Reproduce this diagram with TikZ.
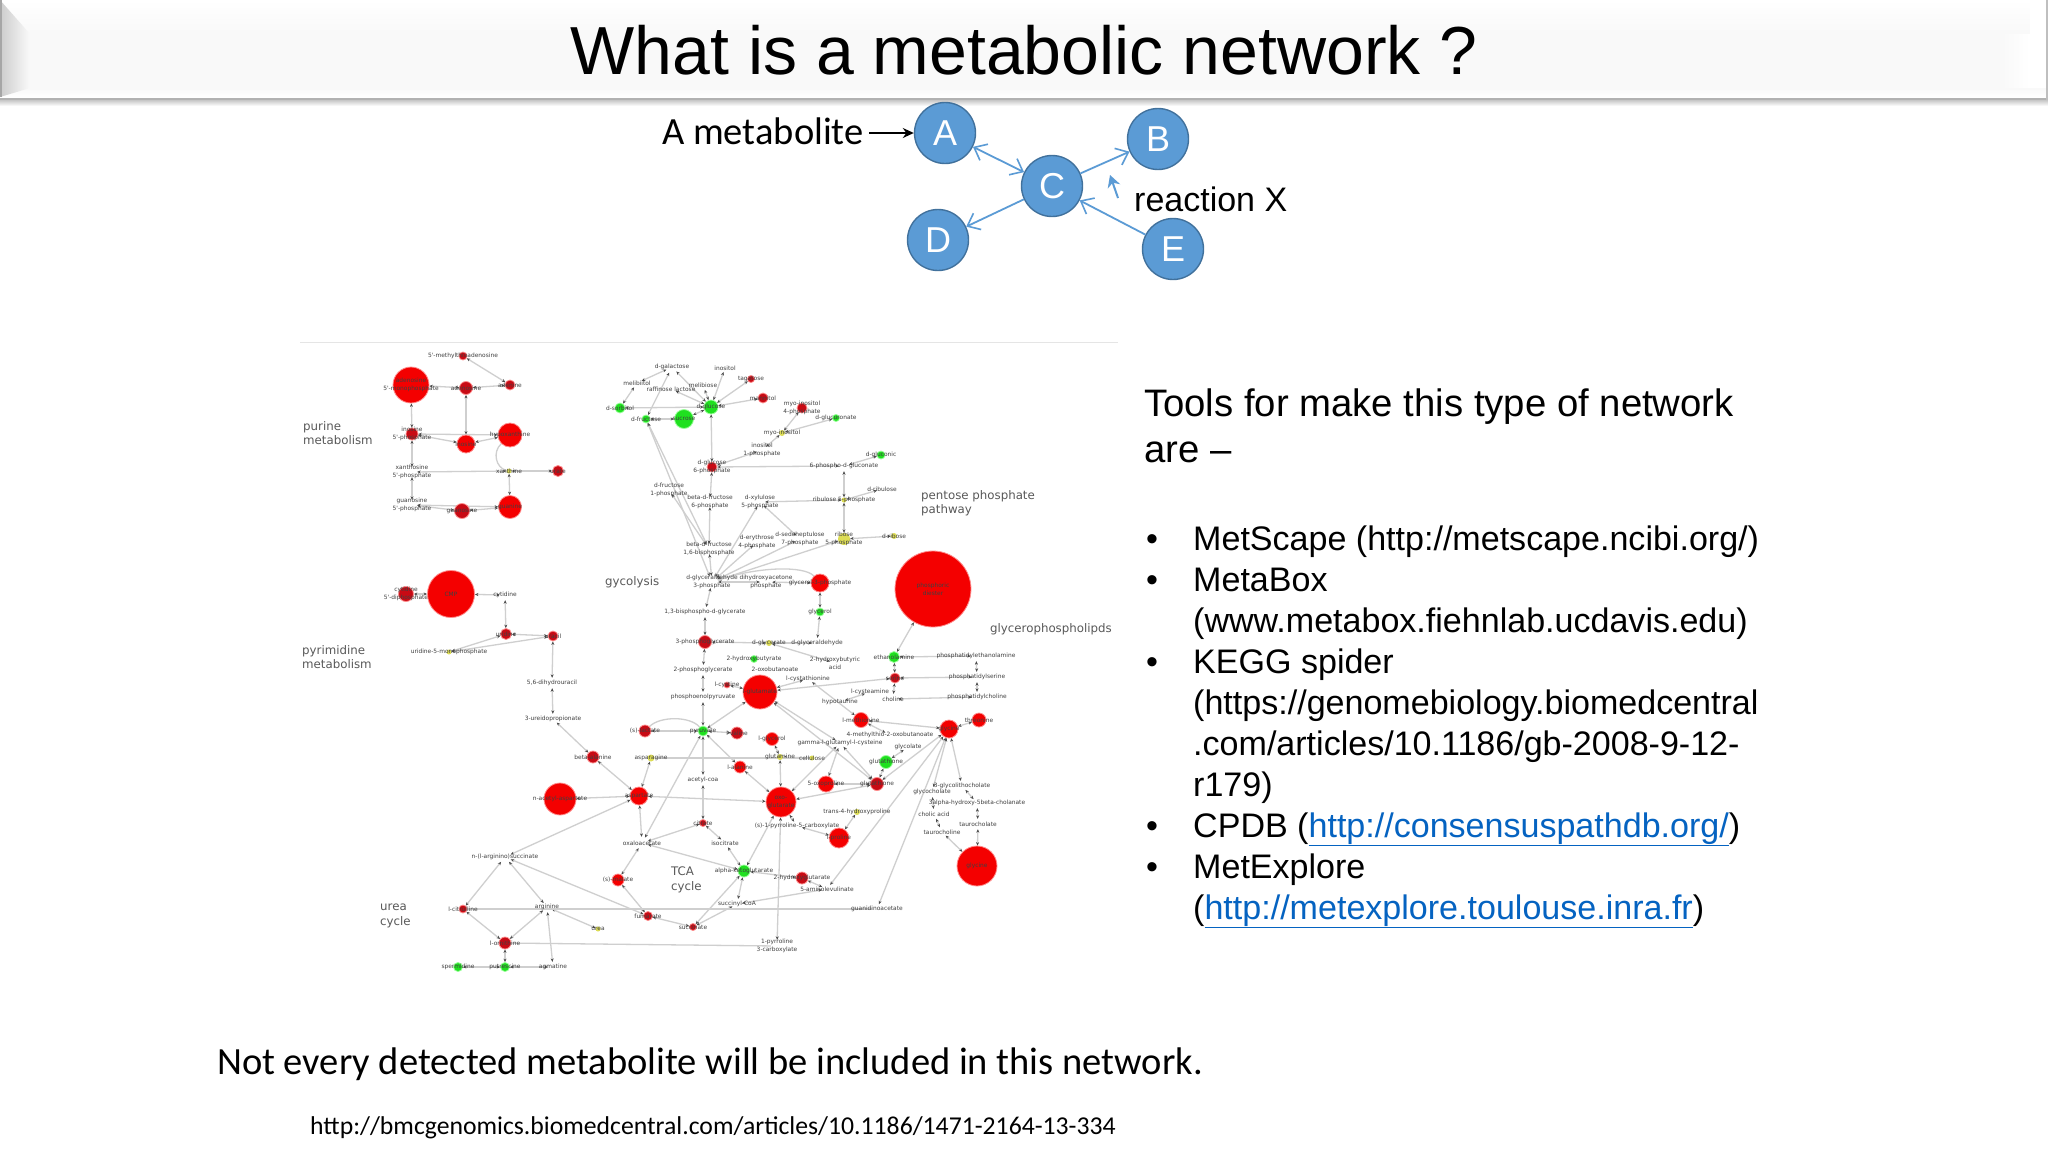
\documentclass[tikz,border=0pt]{standalone}
\usepackage{fontspec}
\setmainfont{Liberation Sans}
\newfontfamily\carl{Carlito}
\newfontfamily\dejav{DejaVu Sans}
\usetikzlibrary{arrows.meta,backgrounds,calc,shadings}
\definecolor{nodeblue}{HTML}{5B9BD5}
\definecolor{nodeedge}{HTML}{41719C}
\definecolor{linkblue}{HTML}{0563C1}
\definecolor{netred}{HTML}{F40000}
\definecolor{netdark}{HTML}{C80A14}
\definecolor{netgreen}{HTML}{1FE01F}
\definecolor{netyellow}{HTML}{DDDD55}
\definecolor{netedge}{HTML}{CFCFCF}
\definecolor{netlabel}{HTML}{404040}
\newcommand{\fs}[1]{\fontsize{#1}{#1}\selectfont}
\newcommand{\M}[6]{\node[#4,minimum size=#5pt,label={[lb]center:{#6}}] (#1) at (#2,#3) {};}
\tikzset{
  x=1pt,y=-1pt,
  met/.style={circle,fill=nodeblue,draw=nodeedge,line width=1.4pt,minimum size=61pt,inner sep=0pt,text=white,font=\fs{36}},
  blink/.style={draw=nodeblue,line width=1.8pt},
  body/.style={anchor=base west,inner sep=0pt,font=\fs{34.05},text=black},
  cbody/.style={anchor=base west,inner sep=0pt,text=black},
  rd/.style={circle,inner sep=0pt,fill=netred,draw=red!45!white,line width=.8pt},
  dk/.style={circle,inner sep=0pt,fill=netdark,draw=red!45!white,line width=.8pt},
  gn/.style={circle,inner sep=0pt,fill=netgreen,draw=green!40!white,line width=.8pt},
  yl/.style={circle,inner sep=0pt,fill=netyellow},
  tx/.style={circle,inner sep=0pt},
  lb/.style={inner sep=0pt,font=\dejav\fontsize{5.9}{8}\selectfont,text=netlabel,align=center},
  reg/.style={inner sep=0pt,font=\dejav\fontsize{11.8}{14.5}\selectfont,text=black!65,align=left,anchor=north west},
  e/.style={draw=netedge,line width=1.3pt,{Stealth[length=3.5pt,width=3pt,black!70]}-{Stealth[length=3.5pt,width=3pt,black!70]}},
  p/.style={draw=netedge,line width=1.3pt},
}
\begin{document}
\begin{tikzpicture}
\useasboundingbox (0,0) rectangle (2048,1152);
% title banner
\fill[black!30] (0,97) rectangle (2048,100);
\shade[top color=black!22,bottom color=white] (0,100) rectangle (2048,106);
\shade[top color=white,bottom color=black!2.5] (0,0) rectangle (2048,34);
\fill[black!2.5] (0,34) rectangle (2020,88);
\shade[left color=black!2.5,right color=white] (2000,34) rectangle (2030,88);
\fill[white] (2030,0) rectangle (2046,97);
\shade[top color=black!2.5,bottom color=white] (0,88) rectangle (2046,97);
\fill[black!25] (2046,0) rectangle (2048,100);
\shade[left color=black!20,right color=black!2] (0,0) -- (30,34) -- (30,88) -- (0,97) -- cycle;
\fill[black!35] (0,0) rectangle (1.5,97);
\node[anchor=base,inner sep=0pt,font=\fs{68}] (title) at (1024,74) {What is a metabolic network ?};
% reaction diagram
\node[met] (A) at (945,133) {A};
\node[met] (B) at (1158,139) {B};
\node[met] (C) at (1052,186) {C};
\node[met] (D) at (938,240) {D};
\node[met] (E) at (1173,249) {E};
\draw[blink,{Straight Barb[length=11pt,width=18pt,line width=1.6pt]}-{Straight Barb[length=11pt,width=18pt,line width=1.6pt]}] (A) -- (C);
\draw[blink,-{Straight Barb[length=11pt,width=18pt,line width=1.6pt]}] (C) -- (B);
\draw[blink,-{Straight Barb[length=11pt,width=18pt,line width=1.6pt]}] (C) -- (D);
\draw[blink,-{Straight Barb[length=11pt,width=18pt,line width=1.6pt]}] (E) -- (C);
\coordinate (rs) at (1118,198);
\coordinate (rt) at (1110,175);
\draw[blink,line width=2pt,-{Stealth[length=12pt,width=13pt]}] (rs) -- (rt);
\node[cbody,font=\carl\fs{38.5}] (ametab) at (662,144) {A metabolite};
\coordinate (ms) at (869,133);
\draw[black,line width=1.8pt,-{Stealth[length=11pt,width=10pt]}] (ms) -- (A.west);
\node[cbody,font=\fs{34}] (rx) at (1134,211) {reaction X};
% right text
\node[body,font=\fs{38.3}] (t1) at (1144,416) {Tools for make this type of network};
\node[body,font=\fs{38.3}] (t2) at (1144,462) {are –};
\node[body] (b1) at (1146,550) {•};
\node[body] (l1) at (1193,550) {MetScape (http://metscape.ncibi.org/)};
\node[body] (b2) at (1146,591) {•};
\node[body] (l2) at (1193,591) {MetaBox};
\node[body] (l3) at (1193,632) {(www.metabox.fiehnlab.ucdavis.edu)};
\node[body] (b3) at (1146,673) {•};
\node[body] (l4) at (1193,673) {KEGG spider};
\node[body] (l5) at (1193,714) {(https://genomebiology.biomedcentral};
\node[body] (l6) at (1193,755) {.com/articles/10.1186/gb-2008-9-12-};
\node[body] (l7) at (1193,796) {r179)};
\node[body] (b4) at (1146,837) {•};
\node[body] (l8) at (1193,837) {CPDB (\textcolor{linkblue}{\underline{http://consensuspathdb.org/}})};
\node[body] (b5) at (1146,878) {•};
\node[body] (l9) at (1193,878) {MetExplore};
\node[body] (l10) at (1193,919) {(\textcolor{linkblue}{\underline{http://metexplore.toulouse.inra.fr}})};
\node[cbody,font=\carl\fs{38.5}] (note) at (217,1074) {Not every detected metabolite will be included in this network.};
\node[cbody,font=\carl\fs{25.7}] (src) at (310,1134) {http://bmcgenomics.biomedcentral.com/articles/10.1186/1471-2164-13-334};
% network region labels
\node[reg] (rpur) at (303,421) {purine\\metabolism};
\node[reg] (rpyr) at (302,645) {pyrimidine\\metabolism};
\node[reg] (rgly) at (605,576) {gycolysis};
\node[reg] (rpen) at (921,490) {pentose phosphate\\pathway};
\node[reg] (rgp) at (990,623) {glycerophospholipds};
\node[reg] (rtca) at (671,867) {TCA\\cycle};
\node[reg] (rurea) at (380,904) {urea\\cycle};
% purine
\M{mta}{463}{356}{dk}{8}{5'-methylthioadenosine}
\M{amp}{411}{385}{rd}{36}{adenosine\\5'-monophosphate}
\M{ados}{466}{388}{dk}{13}{adenosine}
\M{ade}{510}{385}{dk}{10}{adenine}
\M{imp}{412}{434}{dk}{12}{inosine\\5'-phosphate}
\M{ino}{466}{444}{rd}{18}{inosine}
\M{hyp}{510}{435}{rd}{24}{hypoxanthine}
\M{xmp}{412}{472}{tx}{10}{xanthosine\\5'-phosphate}
\M{xan}{509}{471}{yl}{5}{xanthine}
\M{urt}{558}{471}{dk}{11}{urate}
\M{gmp}{412}{505}{tx}{10}{guanosine\\5'-phosphate}
\M{guo}{462}{511}{dk}{15}{guanosine}
\M{gua}{510}{507}{rd}{23}{guanine}
% pyrimidine
\M{cdpa}{406}{594}{dk}{15}{cytidine\\5'-diphosphate}
\M{cmp}{451}{594}{rd}{47}{CMP}
\M{cyt}{505}{595}{tx}{10}{cytidine}
\M{uri}{506}{634}{dk}{11}{uridine}
\M{ura}{553}{636}{dk}{10}{uracil}
\M{ump}{449}{652}{yl}{5}{uridine-5-monophosphate}
\M{dhu}{552}{683}{tx}{10}{5,6-dihydrouracil}
\M{urp}{553}{719}{tx}{10}{3-ureidopropionate}
\M{bala}{593}{757}{dk}{12}{beta-alanine}
\M{asn}{651}{758}{yl}{7}{asparagine}
\M{smal}{645}{731}{dk}{12}{(s)-lactate}
\M{pyr}{703}{731}{gn}{10}{pyruvate}
\M{nac}{560}{799}{rd}{32}{n-acetyl-aspartate}
\M{asp}{639}{796}{rd}{18}{aspartate}
\M{cit}{703}{823}{dk}{7}{citrate}
\M{oaa}{642}{843}{tx}{12}{oxaloacetate}
\M{mal}{618}{880}{rd}{12}{(s)-malate}
\M{agsuc}{505}{857}{tx}{12}{n-(l-arginino)succinate}
\M{citl}{463}{909}{dk}{8}{l-citrulline}
\M{arg}{547}{907}{tx}{10}{arginine}
\M{urea}{598}{929}{yl}{5}{urea}
\M{orn}{505}{943}{dk}{12}{l-ornithine}
\M{spd}{458}{967}{gn}{9}{spermidine}
\M{put}{505}{967}{gn}{9}{putrescine}
\M{agm}{553}{967}{tx}{10}{agmatine}
\M{fum}{648}{916}{dk}{9}{fumarate}
\M{suc}{693}{927}{dk}{7}{succinate}
% sugars
\M{gal}{672}{367}{tx}{12}{d-galactose}
\M{inl}{725}{368}{tx}{8}{inositol}
\M{tag}{751}{379}{dk}{7}{tagatose}
\M{meb}{703}{385}{tx}{10}{melibiose}
\M{mbl}{637}{383}{tx}{10}{melibiitol}
\M{lac}{671}{389}{tx}{10}{raffinose lactose}
\M{sor}{620}{408}{gn}{10}{d-sorbitol}
\M{glc}{711}{407}{gn}{14}{d-glucose}
\M{fru}{646}{419}{gn}{8}{d-fructose}
\M{suz}{684}{419}{gn}{19}{sucrose}
\M{man}{763}{398}{dk}{10}{mannitol}
\M{ip}{802}{408}{dk}{10}{myo-inositol\\4-phosphate}
\M{gur}{836}{418}{gn}{7}{d-glucuronate}
\M{myo}{782}{433}{yl}{6}{myo-inositol}
\M{ipa}{762}{450}{tx}{10}{inositol\\1-phosphate}
\M{g6p}{712}{467}{dk}{10}{d-glucose\\6-phosphate}
\M{pg}{844}{466}{tx}{10}{6-phospho-d-gluconate}
\M{gnt}{881}{455}{gn}{8}{d-gluconic}
\M{fa}{669}{490}{tx}{10}{d-fructose\\1-phosphate}
\M{f6p}{710}{502}{tx}{10}{beta-d-fructose\\6-phosphate}
\M{xa}{760}{502}{tx}{10}{d-xylulose\\5-phosphate}
\M{rl}{844}{500}{yl}{5}{ribulose 5-phosphate}
\M{rb}{882}{489}{tx}{10}{d-ribulose}
\M{fbp}{709}{549}{tx}{10}{beta-d-fructose\\1,6-bisphosphate}
\M{e4p}{757}{542}{tx}{10}{d-erythrose\\4-phosphate}
\M{s7p}{800}{539}{tx}{10}{d-sedoheptulose\\7-phosphate}
\M{r5p}{844}{539}{yl}{12}{ribose\\5-phosphate}
\M{rib}{894}{536}{yl}{6}{d-ribose}
\M{gap}{712}{582}{tx}{12}{d-glyceraldehyde\\3-phosphate}
\M{dhap}{766}{582}{tx}{12}{dihydroxyacetone\\phosphate}
\M{g3p}{820}{583}{rd}{18}{glycerol-3-phosphate}
\M{pdi}{933}{589}{rd}{76}{phosphoric\\diester}
\M{gol}{820}{612}{gn}{8}{glycerol}
\M{bpg}{705}{612}{tx}{10}{1,3-bisphospho-d-glycerate}
\M{pga}{705}{642}{dk}{13}{3-phosphoglycerate}
\M{gly}{769}{643}{yl}{6}{d-glycerate}
\M{gld}{817}{643}{tx}{10}{d-glyceraldehyde}
\M{eta}{894}{657}{gn}{11}{ethanolamine}
\M{pe}{976}{656}{tx}{10}{phosphatidylethanolamine}
\M{hb}{754}{659}{gn}{7}{2-hydroxybutyrate}
\M{hbu}{835}{663}{tx}{10}{2-hydroxybutyric\\acid}
\M{pgb}{703}{670}{tx}{10}{2-phosphoglycerate}
% amino acids
\M{cys}{727}{685}{dk}{6}{l-cystine}
\M{glu}{760}{692}{rd}{34}{l-glutamate}
\M{oxb}{775}{669}{tx}{8}{2-oxobutanoate}
\M{cth}{808}{679}{tx}{10}{l-cystathionine}
\M{ser}{895}{678}{dk}{10}{serine}
\M{ps}{977}{677}{tx}{10}{phosphatidylserine}
\M{cym}{870}{692}{tx}{10}{l-cysteamine}
\M{cho}{893}{699}{tx}{10}{choline}
\M{pch}{977}{697}{tx}{10}{phosphatidylcholine}
\M{pep}{703}{697}{tx}{10}{phosphoenolpyruvate}
\M{hta}{840}{702}{tx}{10}{hypotaurine}
\M{met}{861}{720}{rd}{15}{l-methionine}
\M{gcn}{949}{729}{rd}{18}{glycine}
\M{thr}{979}{720}{rd}{14}{threonine}
\M{ala}{737}{733}{dk}{12}{l-valine}
\M{gln}{772}{739}{rd}{13}{l-glycerol}
\M{mob}{890}{735}{tx}{10}{4-methylthio-2-oxobutanoate}
\M{ggc}{840}{743}{tx}{10}{gamma-l-glutamyl-l-cysteine}
\M{gcl}{908}{747}{tx}{10}{glycolate}
\M{gsh}{886}{762}{gn}{13}{glutathione}
\M{gnn}{780}{757}{yl}{6}{glutamine}
\M{cel}{812}{758}{yl}{5}{cellulose}
\M{lal}{740}{767}{rd}{12}{l-alanine}
\M{opr}{826}{784}{rd}{16}{5-oxoproline}
\M{gss}{877}{784}{dk}{13}{glutathione}
\M{akgb}{781}{802}{rd}{30}{oxo-\\glutarate}
\M{aco}{703}{780}{tx}{10}{acetyl-coa}
\M{gch}{932}{792}{tx}{10}{glycocholate}
\M{glt}{962}{786}{tx}{10}{3-glycolithocholate}
\M{chn}{977}{803}{tx}{10}{3alpha-hydroxy-5beta-cholanate}
\M{cha}{934}{814}{tx}{10}{cholic acid}
\M{tca}{978}{824}{tx}{10}{taurocholate}
\M{tcb}{942}{832}{tx}{10}{taurocholine}
\M{bile}{977}{866}{rd}{40}{glycine}
\M{hyd}{857}{812}{yl}{6}{trans-4-hydroxyproline}
\M{pro}{839}{838}{rd}{20}{l-proline}
\M{p5c}{797}{826}{tx}{10}{(s)-1-pyrroline-5-carboxylate}
\M{ict}{725}{843}{tx}{10}{isocitrate}
\M{akg}{744}{871}{gn}{12}{alpha-ketoglutarate}
\M{hgt}{802}{878}{dk}{12}{2-hydroxyglutarate}
\M{ala5}{827}{889}{tx}{10}{5-aminolevulinate}
\M{sca}{737}{904}{tx}{10}{succinyl-CoA}
\M{gaa}{877}{909}{tx}{10}{guanidinoacetate}
\M{pyc}{777}{946}{tx}{12}{1-pyrroline\\3-carboxylate}
\begin{scope}[on background layer]
\fill[white] (0,0) rectangle (2048,1152);
\coordinate (ruleL) at (300,342);
\coordinate (ruleR) at (1118,342);
\draw[black!10,line width=1pt] (ruleL) -- (ruleR);
\foreach \a/\b in {mta/ade,amp/ados,ados/ade,amp/imp,ados/ino,imp/ino,imp/hyp,ino/hyp,imp/xmp,xmp/gmp,xmp/xan,gua/xan,xan/urt,gmp/guo,guo/gua,gmp/gua,
 cdpa/cmp,cmp/cyt,cyt/uri,uri/ura,ump/uri,ump/ura,ura/dhu,dhu/urp,urp/bala,bala/asp,nac/asp,asp/asn,asp/oaa,agsuc/asp,asp/akgb,
 smal/pyr,oaa/mal,mal/fum,fum/suc,pyr/oaa,cit/oaa,cit/ict,ict/akg,oaa/akg,akg/akgb,akg/sca,akg/hgt,sca/suc,akg/suc,
 agsuc/citl,agsuc/arg,agsuc/fum,citl/orn,arg/orn,arg/urea,arg/agm,orn/put,put/agm,spd/put,
 gal/mbl,gal/fru,gal/glc,mbl/sor,lac/glc,meb/glc,inl/glc,tag/glc,man/glc,sor/glc,fru/suz,suz/glc,glc/g6p,g6p/ipa,ipa/myo,myo/ip,myo/gur,g6p/pg,pg/gnt,pg/rl,rl/r5p,rl/xa,rb/rl,r5p/rib,
 fru/fbp,fru/gap,fa/fbp,f6p/g6p,f6p/fbp,xa/gap,xa/s7p,e4p/gap,s7p/gap,r5p/gap,fbp/gap,gap/dhap,dhap/g3p,g3p/gol,gap/bpg,bpg/pga,pga/pgb,pgb/pep,pep/pyr,gol/gld,gld/gly,gly/pga,gly/hbu,
 pdi/eta,eta/pe,eta/ser,pe/ps,ps/pch,ser/ps,ser/cho,cho/pch,glu/cys,glu/pyr,glu/cth,glu/ser,glu/ggc,cth/met,hta/cym,glu/gss,pyr/ala,pyr/lal,lal/akgb,gln/gnn,gnn/cel,gnn/akgb,pyr/aco,aco/cit,
 met/gcn,mob/met,ggc/gss,ggc/opr,ggc/akgb,opr/gss,gss/gsh,gsh/gcl,gss/gcn,thr/gcn,akgb/gss,akgb/p5c,p5c/pro,pro/hyd,akgb/pyc,gcn/glt,glt/chn,chn/tca,tca/bile,gcn/gch,gch/cha,cha/tcb,tcb/bile,gcn/ala5,gcn/gaa,ala5/hgt,sca/ala5}
 {\draw[e] (\a) -- (\b);}
\draw[p] (citl) -- (gaa);
\draw[p] (orn) -- (pyc);
\draw[p] (asn) -- (cel);
\draw[p] (hyp.south west) .. controls (492,452) and (496,468) .. (xan);
\draw[p] (smal) .. controls (660,716) and (690,716) .. (pyr);
\draw[p] (gap) .. controls (760,566) and (805,566) .. (g3p);
\end{scope}
\end{tikzpicture}
\end{document}
